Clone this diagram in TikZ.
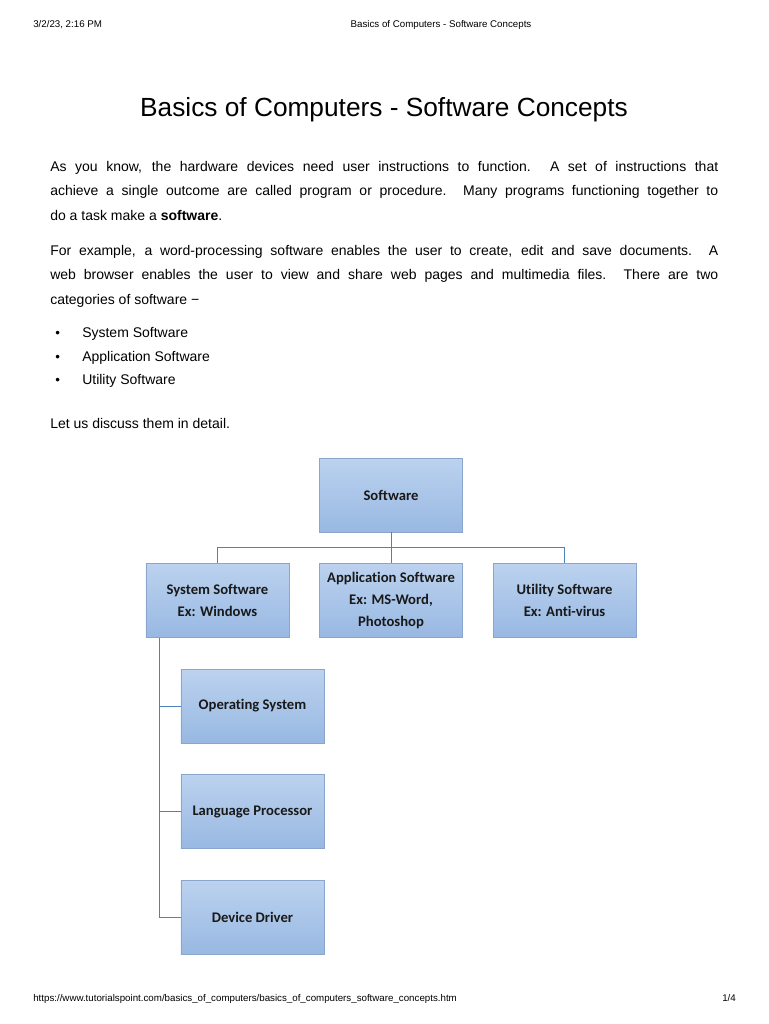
\documentclass[tikz,border=0pt]{standalone}
\usepackage{fontspec}
\setmainfont{Liberation Sans}
\newfontfamily\boxfont[Ligatures=NoCommon]{Carlito}
\usetikzlibrary{calc,positioning}
\newlength{\pxu}
\setlength{\pxu}{0.75pt}
\definecolor{boxTop}{RGB}{188,210,239}
\definecolor{boxBottom}{RGB}{152,184,226}
\definecolor{boxEdge}{RGB}{138,166,205}
\definecolor{lineColor}{RGB}{79,129,189}
\definecolor{boxText}{RGB}{25,25,25}
\newcommand{\bodyfont}{\fontsize{10.5}{18.4}\selectfont}
\newcommand{\pagefont}{\fontsize{7.3}{9}\selectfont}
\newcommand{\titlefont}{\fontsize{19.7}{24}\selectfont}

\begin{document}
\begin{tikzpicture}[
    x=\pxu, y=-\pxu,
    box/.style={draw=boxEdge, top color=boxTop, bottom color=boxBottom, minimum width=143\pxu, minimum height=74\pxu, inner sep=2pt, align=center, text=boxText, font=\boxfont\bfseries\fontsize{11}{16.5}\selectfont},
    conn/.style={draw=lineColor, line width=\pxu},
    body/.style={anchor=base west, inner sep=0pt, font=\bodyfont},
    node distance=31\pxu and 30\pxu
  ]
  \useasboundingbox (0,0) rectangle (768,1024);

  % page header and footer
  \node[body, font=\pagefont] (date) at (33,28) {3/2/23, 2:16 PM};
  \node[body, font=\pagefont, anchor=base] (head) at (441,28) {Basics of Computers - Software Concepts};
  \node[body, font=\pagefont] (url) at (33,1001) {https://www.tutorialspoint.com/basics\_of\_computers/basics\_of\_computers\_software\_concepts.htm};
  \node[body, font=\pagefont] (pageno) at (722,1001) {1/4};

  % article text
  \node[anchor=base, inner sep=0pt, font=\titlefont] (title) at (384,116) {Basics of Computers - Software Concepts};
  \node[body, text width=668\pxu, align=justify] (para1) at (50,171) {As you know, the hardware devices need user instructions to function. A set of instructions that\linebreak achieve a single outcome are called program or procedure. Many programs functioning together to\linebreak do a task make a \textbf{software}.};
  \node[body, text width=668\pxu, align=justify] (para2) at (50,255) {For example, a word-processing software enables the user to create, edit and save documents. A\linebreak web browser enables the user to view and share web pages and multimedia files. There are two\linebreak categories of software −};
  \foreach \txt [count=\i] in {System Software, Application Software, Utility Software} {
    \node[body] (dot\i) at (55,314+23.5*\i) {\fontsize{10}{10}\selectfont •};
    \node[body] (item\i) at (82,314+23.5*\i) {\txt};
  }
  \node[body] (detail) at (50,428) {Let us discuss them in detail.};

  % software tree
  \node[box] (soft) at (391,495) {Software};
  \node[box, below=31\pxu of soft] (app) {Application Software\\Ex: MS-Word,\\Photoshop};
  \node[box, left=30\pxu of app] (sys) {System Software\\Ex: Windows};
  \node[box, right=30\pxu of app] (util) {Utility Software\\Ex: Anti-virus};
  \node[box, below right=31\pxu and 35\pxu of sys.south west] (os) {Operating System};
  \node[box, below=31\pxu of os] (lang) {Language Processor};
  \node[box, below=31\pxu of lang] (drv) {Device Driver};

  \coordinate (bus) at ($(soft.south)!0.5!(app.north)$);
  \coordinate (trunk) at ([xshift=14\pxu]sys.south west);
  \draw[conn] (soft.south) -- (app.north);
  \draw[conn] (sys.north) |- (bus) -| (util.north);
  \foreach \n in {os,lang,drv}
    \draw[conn] (trunk) |- (\n.west);
\end{tikzpicture}
\end{document}
